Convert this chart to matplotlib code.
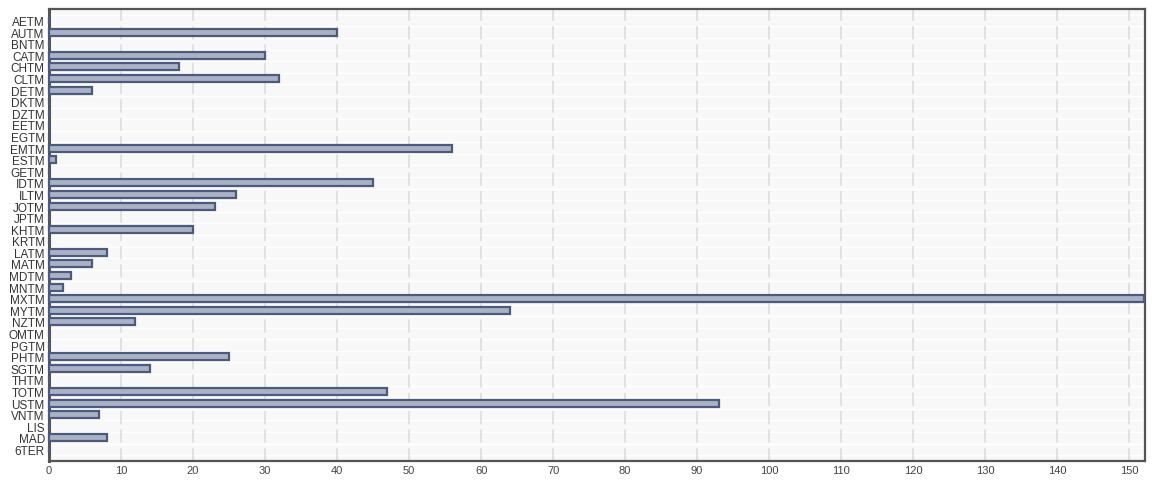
import matplotlib
matplotlib.use("Agg")
import matplotlib.pyplot as plt
import numpy as np

categories = ["AETM", "AUTM", "BNTM", "CATM", "CHTM", "CLTM", "DETM", "DKTM", "DZTM",
              "EETM", "EGTM", "EMTM", "ESTM", "GETM", "IDTM", "ILTM", "JOTM", "JPTM",
              "KHTM", "KRTM", "LATM", "MATM", "MDTM", "MNTM", "MXTM", "MYTM", "NZTM",
              "OMTM", "PGTM", "PHTM", "SGTM", "THTM", "TOTM", "USTM", "VNTM", "LIS",
              "MAD", "6TER"]
values = [0, 40, 0, 30, 18, 32, 6, 0, 0,
          0, 0, 56, 1, 0, 45, 26, 23, 0,
          20, 0, 8, 6, 3, 2, 152, 64, 12,
          0, 0, 25, 14, 0, 47, 93, 7, 0,
          8, 0]
xticks = list(range(0, 151, 10))

plt.rcParams['font.family'] = ['Liberation Sans', 'DejaVu Sans']

fig = plt.figure(figsize=(11.53, 4.81), dpi=100)
fig.patch.set_facecolor("white")
ax = fig.add_axes([49 / 1153, 1 - 462 / 481, (1145 - 49) / 1153, (462 - 10) / 481])
ax.set_facecolor("#f8f8f8")

n = len(categories)
y = np.arange(n)
for i in range(-1, n):
    ax.axhline(i + 0.5, color="white", lw=1.0, zorder=0)

bars = ax.barh(y, values, height=0.6, color="#aab3c6", edgecolor="#4b5a7e",
               linewidth=1.6, zorder=3)
for b in bars:
    b.set_clip_on(False)

ax.set_yticks(y)
ax.set_yticklabels(categories, fontsize=8.5, color="#333333")
ax.set_ylim(n, -1)
ax.set_xlim(0, 152.2)
ax.set_xticks(xticks)
ax.set_xticklabels([str(t) for t in xticks], fontsize=8, color="#444444")
ax.tick_params(axis="both", length=0, pad=3)
ax.xaxis.grid(True, color="#dddddd", linestyle=(0, (8, 3)), linewidth=1.2, zorder=1)
ax.set_axisbelow(True)

for s in ax.spines.values():
    s.set_color("#555555")
    s.set_linewidth(1.6)
    s.set_zorder(2)
ax.spines["left"].set_linewidth(2.2)

fig.savefig("out.png", dpi=100, facecolor="white")
